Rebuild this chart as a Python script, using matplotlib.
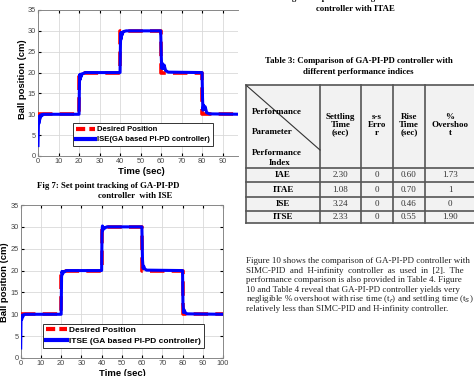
import matplotlib.pyplot as plt
from matplotlib.lines import Line2D
from matplotlib import font_manager

# set point profile (same for both figures)
sp_t = [0, 20, 20, 40, 40, 60, 60, 80, 80, 100]
sp_y = [10, 10, 20, 20, 30, 30, 20, 20, 10, 10]

# GA-PI-PD response, ISE tuning
ise_t = [0, 0.2, 0.3, 0.45, 0.6, 0.8, 1.0, 1.3, 1.6, 2.0, 2.5, 20, 20.2, 20.35, 20.5, 20.7, 21.0, 21.5, 22.2, 23,
         40, 40.2, 40.35, 40.5, 40.7, 41.0, 41.5, 42.2, 43, 59.8, 60.1, 60.3, 60.6, 61.0, 61.5, 62.2, 63.5,
         80, 80.2, 80.4, 80.7, 81.0, 81.5, 82.2, 83.5, 100]
ise_y = [2.5, 7.5, 9.2, 7.8, 9.5, 8.6, 9.7, 9.3, 9.9, 9.7, 10, 10, 17.5, 19.5, 18.3, 19.6, 19.0, 19.7, 19.8, 20,
         20, 27, 29.5, 28.0, 29.6, 29.0, 29.8, 29.9, 30, 30, 24, 21.0, 22.2, 21.0, 21.8, 20.5, 20.1,
         20, 14, 11.0, 12.2, 11.2, 11.8, 10.4, 10.1, 10]

# GA-PI-PD response, ITSE tuning
itse_t = [0, 0.15, 0.3, 0.5, 0.7, 1.0, 1.5, 2.2, 20, 20.2, 20.4, 20.7, 21.0, 21.6, 22.5,
          40, 40.2, 40.4, 40.7, 41.0, 41.6, 42.5, 59.9, 60.2, 60.5, 60.8, 61.3, 62.2,
          80, 80.2, 80.5, 80.8, 81.3, 82.2, 100]
itse_y = [2.3, 8.5, 9.6, 8.8, 9.8, 9.4, 9.9, 10, 10, 18.5, 19.8, 19.2, 19.8, 19.7, 20,
          20, 28.5, 30.2, 29.3, 29.9, 29.7, 30, 30, 22.5, 20.5, 21.0, 20.4, 20.1,
          20, 12.5, 10.4, 11.0, 10.4, 10.1, 10]

# Table 3 contents
row_names = ['IAE', 'ITAE', 'ISE', 'ITSE']
settling = ['2.30', '1.08', '3.24', '2.33']
ss_error = ['0', '0', '0', '0']
rise = ['0.60', '0.70', '0.46', '0.55']
overshoot = ['1.73', '1', '0', '1.90']
col_heads = ['Settling\nTime\n(sec)', 's-s\nErro\nr', 'Rise\nTime\n(sec)', '%\nOvershoo\nt']

paragraph = [
    'Figure 10 shows the comparison of GA-PI-PD controller with',
    'SIMC-PID  and  H-infinity  controller  as  used  in  [2].  The',
    'performance comparison is also provided in Table 4. Figure',
    '10 and Table 4 reveal that GA-PI-PD controller yields very',
    'negligible % overshoot with rise time (t$_r$) and settling time (t$_S$)',
    'relatively less than SIMC-PID and H-infinity controller.',
]

W, H = 474, 376
fig = plt.figure(figsize=(W / 100, H / 100), dpi=100)
fig.patch.set_facecolor('white')

try:
    font_manager.findfont('Liberation Sans Narrow', fallback_to_default=False)
    sans = 'Liberation Sans Narrow'
except ValueError:
    sans = 'Liberation Sans'
serif = 'Liberation Serif'


def px_axes(x0, y_top, x1, y_bot):
    return [x0 / W, 1 - y_bot / H, (x1 - x0) / W, (y_bot - y_top) / H]


def draw_chart(rect, t, y, label, xmax, show_right, leg_anchor, leg_size):
    ax = fig.add_axes(rect)
    ax.plot(sp_t, sp_y, color='#ff0000', lw=2.6, dashes=(4, 2), label='Desired Position', zorder=3)
    ax.plot(t, y, color='#0000ff', lw=2.2, label=label, zorder=4)
    ax.set_xlim(0, xmax)
    ax.set_ylim(0, 35)
    ax.set_xticks(range(0, int(xmax) + 1, 10))
    ax.set_yticks(range(0, 36, 5))
    ax.grid(True, color='#d9d9d9', lw=0.6)
    ax.set_axisbelow(True)
    ax.tick_params(direction='in', length=2, labelsize=5.3, labelcolor='#444444', pad=1.5,
                   top=True, right=show_right)
    for lbl in ax.get_xticklabels() + ax.get_yticklabels():
        lbl.set_family(sans)
    for s in ax.spines.values():
        s.set_color('#888888')
        s.set_linewidth(0.7)
    if not show_right:
        ax.spines['right'].set_visible(False)
    handles = [Line2D([], [], color='#ff0000', lw=3, dashes=(2.2, 1.0)),
               Line2D([], [], color='#0000ff', lw=3)]
    leg = ax.legend(handles, ['Desired Position', label], loc='lower left', bbox_to_anchor=leg_anchor,
                    prop={'family': sans, 'weight': 'bold', 'size': leg_size}, frameon=True,
                    fancybox=False, framealpha=1, edgecolor='#333333', handlelength=2.5,
                    handletextpad=0.3, borderpad=0.35, labelspacing=0.35, borderaxespad=0)
    leg.get_frame().set_linewidth(0.7)
    return ax


ax1 = draw_chart(px_axes(38, 10, 238, 156), ise_t, ise_y, 'ISE(GA based PI-PD controller)',
                 97.5, False, (0.175, 0.068), 5.5)
ax2 = draw_chart(px_axes(20.7, 205, 223, 358), itse_t, itse_y, 'ITSE (GA based PI-PD controller)',
                 100, True, (0.11, 0.065), 6.0)

# overlay in pixel coordinates for the page text and the table
ov = fig.add_axes([0, 0, 1, 1], zorder=0)
ov.set_xlim(0, W)
ov.set_ylim(H, 0)
ov.axis('off')
ov.patch.set_alpha(0)

lab = {'family': sans, 'weight': 'bold', 'size': 6.8}
ov.text(23, 79, 'Ball position (cm)', rotation=90, ha='center', va='center', **lab)
ov.text(141, 172, 'Time (sec)', ha='center', va='center', **lab)
ov.text(5, 282, 'Ball position (cm)', rotation=90, ha='center', va='center', **lab)
ov.text(122, 373, 'Time (sec)', ha='center', va='center', **lab)

cap = {'family': serif, 'weight': 'bold', 'size': 6.3}
ov.text(108, 186, 'Fig 7: Set point tracking of GA-PI-PD', ha='center', va='center', **cap)
ov.text(135, 196, 'controller  with ISE', ha='center', va='center', **cap)
ov.text(355, -1.5, 'Fig 8: Set point tracking of GA-PI-PD', ha='center', va='center', **cap)
ov.text(355, 9, 'controller with ITAE', ha='center', va='center', **cap)
ov.text(359, 61, 'Table 3: Comparison of GA-PI-PD controller with', ha='center', va='center', **cap)
ov.text(358, 72, 'different performance indices', ha='center', va='center', **cap)

# table grid
xs = [246, 320, 361, 393, 425, 480]
ys = [85, 168, 182, 197, 211, 223]
ov.add_patch(plt.Rectangle((xs[0], ys[0]), xs[-1] - xs[0], ys[-1] - ys[0], facecolor='#f2f2f2',
                           edgecolor='none'))
for yy in ys:
    ov.plot([xs[0], xs[-1]], [yy, yy], color='#555555', lw=1.2)
for xx in xs:
    ov.plot([xx, xx], [ys[0], ys[-1]], color='#555555', lw=1.2)
ov.plot([247, 320], [86, 150], color='#333333', lw=0.8)

tb = {'family': serif, 'weight': 'bold', 'size': 6.5}
ov.text(252, 112, 'Performance', ha='left', va='center', **tb)
ov.text(252, 132, 'Parameter', ha='left', va='center', **tb)
ov.text(252, 153, 'Performance', ha='left', va='center', **tb)
ov.text(280, 163, 'Index', ha='center', va='center', **tb)
for i, head in enumerate(col_heads):
    ov.text((xs[i + 1] + xs[i + 2]) / 2 if i < 3 else 450, 125, head, ha='center', va='center',
            linespacing=1.05, **tb)

tv = {'family': serif, 'size': 6.5, 'color': '#333333'}
for r in range(4):
    yc = (ys[r + 1] + ys[r + 2]) / 2
    ov.text(283, yc, row_names[r], ha='center', va='center', **tb)
    vals = [settling[r], ss_error[r], rise[r], overshoot[r]]
    for c, v in enumerate(vals):
        xc = (xs[c + 1] + xs[c + 2]) / 2 if c < 3 else 450
        ov.text(xc, yc, v, ha='center', va='center', **tv)

for i, line in enumerate(paragraph):
    ov.text(246, 261 + i * 9.6, line, ha='left', va='center', family=serif, size=6.5, color='#222222')

fig.savefig('out.png', dpi=100)
